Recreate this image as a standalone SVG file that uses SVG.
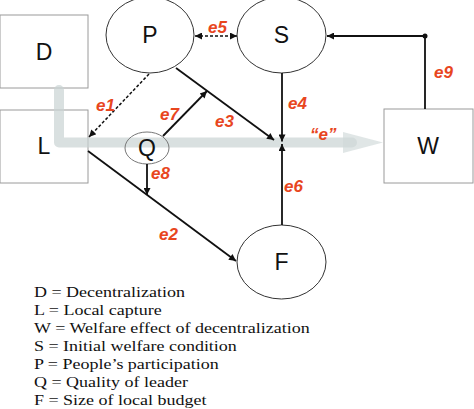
<svg xmlns="http://www.w3.org/2000/svg" width="474" height="409" viewBox="0 0 474 409">
<style>
.box{fill:#fff;stroke:#9a9a9a;stroke-width:1}
.ell{fill:#fff;stroke:#333;stroke-width:1}
.nl{font-family:"Liberation Sans",Arial,sans-serif;font-size:23px;fill:#111;text-anchor:middle}
.el{font-family:"Liberation Sans",Arial,sans-serif;font-size:17px;font-weight:bold;font-style:italic;fill:#e8461e}
.lg{font-family:"Liberation Serif","Times New Roman",serif;font-size:15px;fill:#111}
.c{fill:none;stroke:#111;stroke-width:1.8}
.d{fill:none;stroke:#111;stroke-width:1.5;stroke-dasharray:3,2}
</style>
<defs>
<marker id="ah" viewBox="0 0 10 10" refX="10" refY="5" markerWidth="9" markerHeight="7" markerUnits="userSpaceOnUse" orient="auto-start-reverse">
<path d="M0,0 L10,5 L0,10 z" fill="#111"/>
</marker>
</defs>
<g id="node-D"><rect class="box" x="0" y="15" width="88" height="73"/><text class="nl" x="44" y="60">D</text></g>
<g id="node-L"><rect class="box" x="0" y="110" width="88" height="73"/></g>
<g id="node-W"><rect class="box" x="384" y="109" width="89" height="74"/><text class="nl" x="428" y="154">W</text></g>
<g id="gray-flow">
<path d="M59,90 L59,142.5 L352,142.5" fill="none" stroke="#c9d3d3" stroke-opacity="0.7" stroke-width="10" stroke-linecap="round" stroke-linejoin="round"/>
<path d="M343,132 L383,142.5 L343,153 z" fill="#cfd8d8" fill-opacity="0.65"/>
</g>
<g id="node-L-label"><text class="nl" x="44" y="154">L</text></g>
<g id="node-P"><ellipse class="ell" cx="150" cy="35" rx="44" ry="38"/><text class="nl" x="150" y="43">P</text></g>
<g id="node-S"><ellipse class="ell" cx="281.5" cy="35" rx="44.5" ry="38"/><text class="nl" x="281.5" y="43">S</text></g>
<g id="node-F"><ellipse class="ell" cx="281.5" cy="262" rx="44.5" ry="37"/><text class="nl" x="281.5" y="270">F</text></g>
<g id="node-Q"><ellipse cx="147" cy="148" rx="22" ry="16" fill="none" stroke="#777" stroke-width="1"/><text class="nl" x="147" y="156">Q</text></g>
<g id="connectors">
<path class="d" d="M149,74 L89,137" marker-end="url(#ah)"/>
<path class="c" d="M88,151 L236,261" marker-end="url(#ah)"/>
<path class="c" d="M176,68 L274,140" marker-end="url(#ah)"/>
<path class="c" d="M163,136 L207,91" marker-end="url(#ah)"/>
<path class="c" d="M147,164 L147,195" marker-end="url(#ah)"/>
<path class="c" d="M282,73 L282,141.5" marker-end="url(#ah)"/>
<path class="c" d="M282,225 L282,144" marker-end="url(#ah)"/>
<path class="d" d="M195,36 L237,36" marker-start="url(#ah)" marker-end="url(#ah)"/>
<path class="c" d="M425,109 L425,36 L327,36" marker-end="url(#ah)"/>
<circle cx="425" cy="36" r="2.5" fill="#111"/>
</g>
<g id="edge-labels">
<text class="el" x="96" y="111">e1</text>
<text class="el" x="159" y="240">e2</text>
<text class="el" x="215" y="127">e3</text>
<text class="el" x="288" y="109">e4</text>
<text class="el" x="208" y="33">e5</text>
<text class="el" x="284" y="192">e6</text>
<text class="el" x="160" y="120">e7</text>
<text class="el" x="151" y="179">e8</text>
<text class="el" x="434" y="78">e9</text>
<text class="el" x="310" y="140">“e”</text>
</g>
<g id="legend" transform="translate(34,0) scale(1.2,1)">
<text class="lg" x="0" y="297">D = Decentralization</text>
<text class="lg" x="0" y="315">L = Local capture</text>
<text class="lg" x="0" y="333">W = Welfare effect of decentralization</text>
<text class="lg" x="0" y="351">S = Initial welfare condition</text>
<text class="lg" x="0" y="369">P = People’s participation</text>
<text class="lg" x="0" y="387">Q = Quality of leader</text>
<text class="lg" x="0" y="405">F = Size of local budget</text>
</g>
</svg>
